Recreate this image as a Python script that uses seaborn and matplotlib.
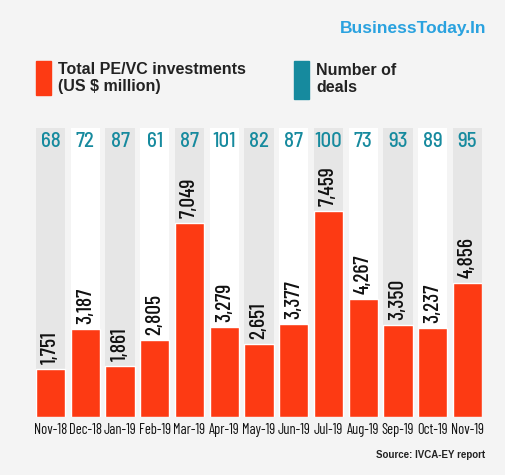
import matplotlib
matplotlib.use("Agg")
import matplotlib.pyplot as plt
from matplotlib.patches import Rectangle
import seaborn as sns
import pandas as pd

# 数据
months = ["Nov-18", "Dec-18", "Jan-19", "Feb-19", "Mar-19", "Apr-19", "May-19",
          "Jun-19", "Jul-19", "Aug-19", "Sep-19", "Oct-19", "Nov-19"]
investments = [1751, 3187, 1861, 2805, 7049, 3279, 2651, 3377, 7459, 4267, 3350, 3237, 4856]
deals = [68, 72, 87, 61, 87, 101, 82, 87, 100, 73, 93, 89, 95]

BG = "#f4f4f4"
RED = "#fd3a13"
TEAL = "#168a9e"
NARROW = ["Barlow Condensed", "DejaVu Sans"]
SEMI = ["Barlow Semi Condensed", "DejaVu Sans"]

sns.set_theme(style="white")
plt.rcParams["font.family"] = ["Liberation Sans", "DejaVu Sans"]

fig = plt.figure(figsize=(5.05, 4.75), dpi=100, facecolor=BG)
ax = fig.add_axes([36 / 505, 58 / 475, 446 / 505, 289 / 475])
ax.patch.set_visible(False)

ymax = 10480
w = 0.835
n = len(months)

df = pd.DataFrame({"month": months, "investments": investments})
sns.barplot(data=df, x="month", y="investments", color=RED, width=w,
            saturation=1, ax=ax, zorder=2)

# 交替的背景列
col_colors = ["#e6e6e6" if i % 2 == 0 else "white" for i in range(n)]
ax.bar(range(n), [ymax] * n, width=w, color=col_colors, zorder=0, linewidth=0)

for i, v in enumerate(investments):
    ax.annotate(f"{v:,}", (i, v), xytext=(0, 3.5), textcoords="offset points",
                rotation=90, ha="center", va="bottom", fontsize=15.5,
                family=NARROW, fontweight="medium", color="#111111")

for i, d in enumerate(deals):
    ax.annotate(str(d), (i, 0.952), xycoords=("data", "axes fraction"),
                ha="center", va="center", fontsize=15, family=SEMI,
                fontweight="medium", color=TEAL)

ax.set_xlim(-w / 2, n - 1 + w / 2)
ax.set_ylim(0, ymax)
ax.set_xticks(range(n), months)
for lab in ax.get_xticklabels():
    lab.set_fontfamily(NARROW)
    lab.set_fontsize(10.5)
    lab.set_color("#111111")
ax.set_yticks([])
ax.tick_params(axis="x", length=0, pad=4)
ax.set_xlabel("")
ax.set_ylabel("")
sns.despine(ax=ax, left=True, bottom=True)

# 图例
fig.patches.append(Rectangle((36 / 505, 1 - 95 / 475), 15 / 505, 34 / 475,
                             transform=fig.transFigure, color=RED))
fig.text(58 / 505, 1 - 78 / 475, "Total PE/VC investments\n(US $ million)",
         ha="left", va="center", fontsize=11.5, fontweight="bold",
         color="#222222", linespacing=1.15)
fig.patches.append(Rectangle((294 / 505, 1 - 99 / 475), 15 / 505, 38 / 475,
                             transform=fig.transFigure, color=TEAL))
fig.text(316 / 505, 1 - 79 / 475, "Number of\ndeals",
         ha="left", va="center", fontsize=11.5, fontweight="bold",
         color="#222222", linespacing=1.15)

fig.text(486 / 505, 1 - 28 / 475, "BusinessToday.In", ha="right", va="center",
         fontsize=12.5, fontweight="bold", color="#2aa2df")
fig.text(485 / 505, 1 - 455 / 475, "Source: IVCA-EY report", ha="right",
         va="center", fontsize=7, fontweight="bold", color="#222222")

fig.savefig("out.png", dpi=100, facecolor=BG)
